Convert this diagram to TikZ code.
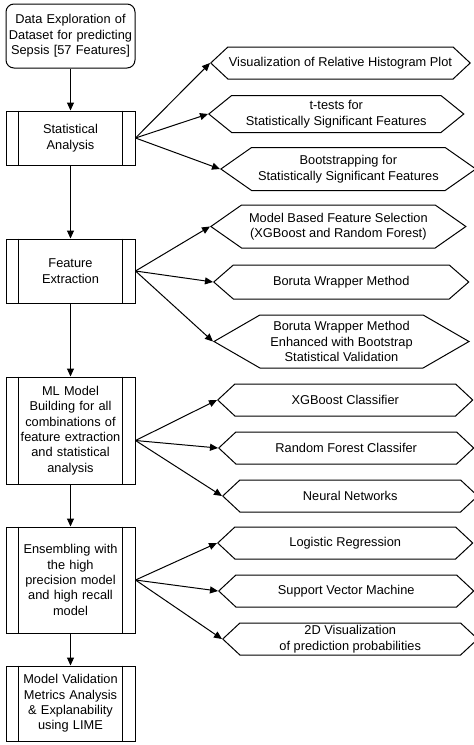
\documentclass[tikz,border=0pt]{standalone}
\usepackage{fontspec}
\setmainfont{Liberation Sans}
\usetikzlibrary{arrows.meta,shapes.symbols}

\tikzset{
  step box/.style={draw, line width=1pt, minimum width=129pt, inner sep=1pt, align=center,
    text width=126pt, font=\fontsize{12.8}{15.4}\selectfont},
  opt/.style={draw, line width=1pt, signal, signal to=east and west, signal pointer angle=#1,
    minimum width=255pt, inner sep=1pt, align=center, anchor=west,
    font=\fontsize{12.8}{15.4}\selectfont},
  opt/.default=86,
  arr/.style={line width=1pt, -{Triangle[length=8pt,width=7pt]}}
}

\begin{document}
\begin{tikzpicture}[x=1pt, y=-1pt]
\useasboundingbox (0,0) rectangle (474,745);

% main steps
\node[step box, rounded corners=8pt, minimum height=64pt] (data) at (70.5,36) {Data Exploration of\\Dataset for predicting\\Sepsis [57 Features]};
\node[step box, minimum height=54pt] (stat) at (70.5,138) {Statistical\\Analysis};
\node[step box, minimum height=64pt] (feat) at (70.5,271) {Feature\\Extraction};
\node[step box, minimum height=107pt] (ml) at (70.5,430.5) {ML Model\\Building for all\\combinations of\\feature extraction\\and statistical\\analysis};
\node[step box, minimum height=106pt] (ens) at (70.5,580) {Ensembling with\\the high\\precision model\\and high recall\\model};
\node[step box, minimum height=75pt] (val) at (70.5,703.5) {Model Validation\\Metrics Analysis\\\& Explanability\\using LIME};

% inner lines of the process boxes
\foreach \n in {stat,feat,ml,ens,val} {
  \draw[line width=1pt] ([xshift=13pt]\n.north west) -- ([xshift=13pt]\n.south west);
  \draw[line width=1pt] ([xshift=-13pt]\n.north east) -- ([xshift=-13pt]\n.south east);
}

% options
\node[opt, minimum height=32pt] (hist) at (210,63) {Visualization of Relative Histogram Plot};
\node[opt=78, minimum height=37pt] (ttest) at (208,114) {t-tests for\\Statistically Significant Features};
\node[opt=70, minimum height=43pt] (boot) at (220,169) {Bootstrapping for\\Statistically Significant Features};

\node[opt=70, minimum height=43pt] (mbfs) at (210,226.5) {Model Based Feature Selection\\(XGBoost and Random Forest)};
\node[opt=82, minimum height=34pt] (boruta) at (213,282) {Boruta Wrapper Method};
\node[opt=60, minimum height=53pt] (borutab) at (213,341.5) {Boruta Wrapper Method\\Enhanced with Bootstrap\\Statistical Validation};

\node[opt, minimum height=32pt] (xgb) at (217,400) {XGBoost Classifier};
\node[opt, minimum height=32pt] (rf) at (218,448) {Random Forest Classifer};
\node[opt, minimum height=32pt] (nn) at (222,496) {Neural Networks};

\node[opt, minimum height=32pt] (lr) at (217,543) {Logistic Regression};
\node[opt, minimum height=32pt] (svm) at (218,591) {Support Vector Machine};
\node[opt, minimum height=32pt] (viz) at (222,639) {2D Visualization\\of prediction probabilities};

% arrows down
\draw[arr] (data) -- (stat);
\draw[arr] (stat) -- (feat);
\draw[arr] (feat) -- (ml);
\draw[arr] (ml) -- (ens);
\draw[arr] (ens) -- (val);

% arrows to the options
\foreach \t in {hist,ttest,boot} \draw[arr] (stat.east) -- (\t.west);
\foreach \t in {mbfs,boruta,borutab} \draw[arr] (feat.east) -- (\t.west);
\foreach \t in {xgb,rf,nn} \draw[arr] ([yshift=-10pt]ml.east) -- (\t.west);
\foreach \t in {lr,svm,viz} \draw[arr] (ens.east) -- (\t.west);

\end{tikzpicture}
\end{document}
